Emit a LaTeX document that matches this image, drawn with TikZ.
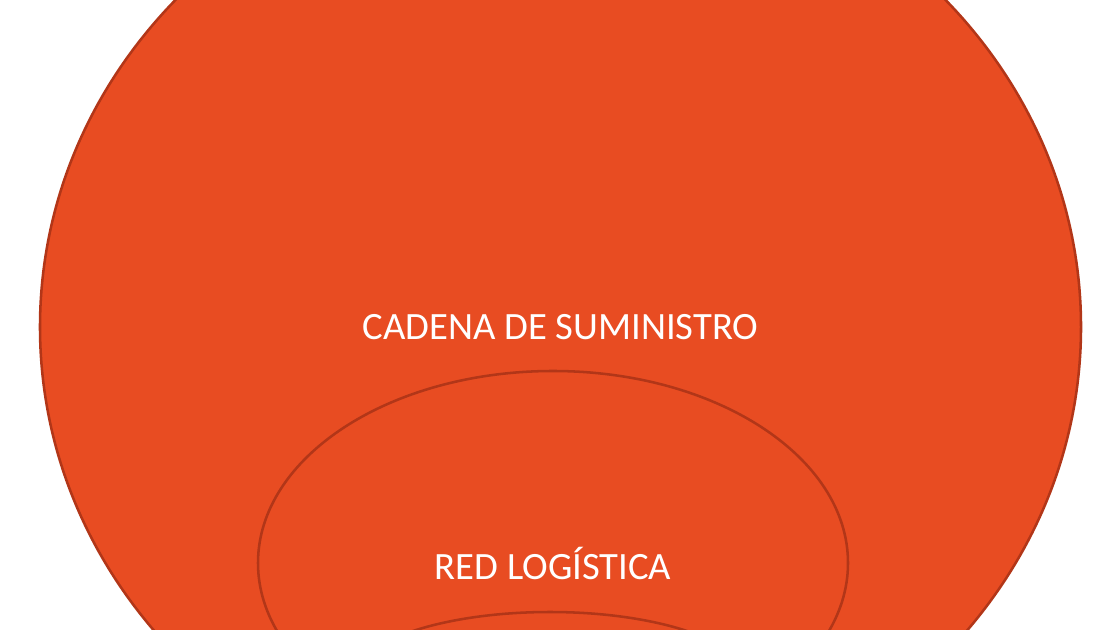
\documentclass[tikz,border=0pt]{standalone}
\usepackage{fontspec}
\setmainfont{Carlito}
\usepackage{tikz}
\usetikzlibrary{shapes.geometric}
\definecolor{naranja}{RGB}{232,76,34}
\definecolor{borde}{RGB}{178,54,24}
\tikzset{
  capa/.style={ellipse, fill=naranja, draw=borde, line width=1.9pt, inner sep=0pt,
    text=white, font=\fontsize{29}{34}\selectfont}
}

\begin{document}
\begin{tikzpicture}[x=0.75pt,y=0.75pt,yscale=-1,xscale=1]
%set diagram size 1119 x 630
\useasboundingbox (0,0) rectangle (1119,630);
\clip (0,0) rectangle (1119,630);
%Shape: Ellipse [cadena]
\node [capa, minimum width=1041*0.75pt, minimum height=972*0.75pt] (cadena) at (560.5,327) {CADENA DE SUMINISTRO};
%Shape: Ellipse [red]
\node [capa, minimum width=590*0.75pt, minimum height=384*0.75pt] (red) at (553,563) {RED LOGÍSTICA};
%Shape: Ellipse [interior]
\node [capa, minimum width=400*0.75pt, minimum height=140*0.75pt] (interior) at (550,682) {};
\end{tikzpicture}
\end{document}
